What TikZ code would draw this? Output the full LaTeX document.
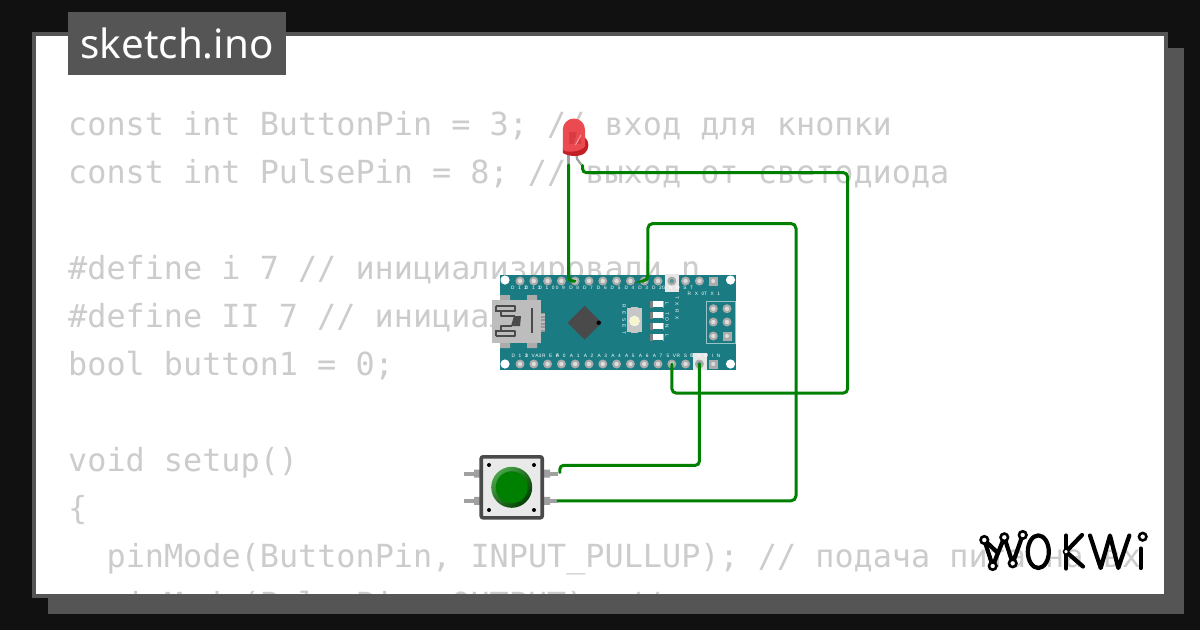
\documentclass[tikz,border=0pt]{standalone}
\usepackage{fontspec}
\setmainfont{Liberation Sans}
\newfontfamily\codefont{DejaVu Sans Mono}
\newfontfamily\titlefont{Noto Sans}
\newfontfamily\pinfont[LetterSpace=75]{Liberation Sans}
\usetikzlibrary{calc}
\definecolor{bgdark}{HTML}{111111}
\definecolor{framegray}{HTML}{555555}
\definecolor{codegray}{HTML}{CCCCCC}
\definecolor{boardteal}{HTML}{1B7B83}
\definecolor{wiregreen}{HTML}{008000}
\definecolor{pinmetal}{HTML}{ABABAB}
\definecolor{pinlight}{HTML}{DDDDDD}
\definecolor{usbgray}{HTML}{BDBDBD}
\definecolor{usbdark}{HTML}{4A4A4A}
\definecolor{legray}{HTML}{A0A0A0}
\definecolor{ledred}{HTML}{EA4A50}
\definecolor{leddark}{HTML}{C21F26}
\definecolor{ledmid}{HTML}{D83C42}
\definecolor{resetface}{HTML}{F6F6CC}
\definecolor{btnface}{HTML}{E9E9E9}
\definecolor{btnhi}{HTML}{4BA34B}
\definecolor{btnlo}{HTML}{003F00}
\tikzset{
  codeline/.style={anchor=base west,inner sep=0pt,text=codegray,font=\codefont\fontsize{31.82}{32}\selectfont},
  pinhole/.style={circle,fill=pinmetal,inner sep=0pt,minimum size=9pt},
  pinsquare/.style={rectangle,fill=pinmetal,inner sep=0pt,minimum size=9pt},
  pinlabel/.style={inner sep=0pt,text=white,font=\pinfont\fontsize{4.8}{5}\selectfont},
  wire/.style={draw=wiregreen,line width=3pt,rounded corners=5pt,line cap=round},
  logo/.style={draw=black,line width=4.2pt,line cap=round,line join=round},
  logodot/.style={draw=black,fill=white,line width=2.6pt,circle,inner sep=0pt,minimum size=7.5pt},
  lamp/.style={rectangle,fill=white,inner sep=0pt,minimum width=14pt,minimum height=6.6pt},
}
\begin{document}
\begin{tikzpicture}[x=1pt,y=-1pt]
\useasboundingbox (0,0) rectangle (1200,630);
\fill[bgdark] (0,0) rectangle (1200,630);
\fill[framegray] (48,48) rectangle (1184,614);
\fill[white] (32,32) rectangle (1168,598);
% code text
\begin{scope}
\clip (36,36) rectangle (1164,594);
\node[codeline] (code1) at (68,135) {const int ButtonPin = 3; // вход для кнопки};
\node[codeline] (code2) at (68,183) {const int PulsePin = 8; // выход от светодиода};
\node[codeline] (code4) at (68,279) {\#define i 7 // инициализировали n};
\node[codeline] (code5) at (68,327) {\#define II 7 // инициализировали};
\node[codeline] (code6) at (68,375) {bool button1 = 0;};
\node[codeline] (code8) at (68,471) {void setup()};
\node[codeline] (code9) at (68,519) {\{};
\node[codeline] (code10) at (106.4,567) {pinMode(ButtonPin, INPUT\_PULLUP); // подача пита на вх};
\node[codeline] (code11) at (106.4,615) {pinMode(PulsePin, OUTPUT); //};
\end{scope}
\draw[framegray,line width=4pt] (34,34) rectangle (1166,596);
% title
\fill[framegray] (68,12) rectangle (286,75);
\node[anchor=base,inner sep=0pt,text=white,font=\titlefont\fontsize{40.3}{40}\selectfont] (title) at (177,58) {sketch.ino};
% board
\fill[boardteal] (500,275) rectangle (736,370);
\foreach \p in {(505,280),(730.5,280),(505,364),(730.5,364)} \fill[white] \p circle (4.6);
\fill[pinlight!70!white] (665.3,274) rectangle (679,291.7);
\fill[pinlight!70!white] (692.7,352.7) rectangle (706.7,370);
% pins
\foreach \i in {0,...,13} {
  \node[pinhole] (t\i) at ({520+13.8*\i},281) {};
  \fill[pinlight] (t\i.center) circle (2.2);
  \node[pinhole] (b\i) at ({520+13.8*\i},364) {};
  \fill[pinlight] (b\i.center) circle (2.2);
}
\node[pinsquare] (t14) at (713.2,281) {};
\fill[pinlight] (t14.center) circle (2);
\node[pinsquare] (b14) at (713.2,364) {};
\fill[pinlight] (b14.center) circle (2);
\fill[boardteal!55!pinmetal] (t11.center) circle (2.2);
\fill[boardteal!55!pinmetal] (b13.center) circle (2.2);
% pin labels
\foreach \i/\t in {0/D12,1/D11,2/D10,3/09,4/D8,5/D7,6/D6,7/D5,8/D4,9/D3,10/D2,11/GND,12/RST}
  \node[pinlabel] (lt\i) at ({519+13.8*\i},288) {\t};
\foreach \i/\t in {0/D13,1/3V3,2/AREF,3/A0,4/A1,5/A2,6/A3,7/A4,8/A5,9/A6,10/A7,11/5V,12/RST,13/GND,14/VIN}
  \node[pinlabel] (lb\i) at ({519.5+13.8*\i},356) {\t};
\node[pinlabel] (lrx) at (696,293.5) {RX0};
\node[pinlabel] (ltx) at (712,293.5) {TX1};
% USB
\fill[pinmetal] (500,295) rectangle (510,300) (527,295) rectangle (537,300)
                (500,342) rectangle (510,348) (527,342) rectangle (537,348);
\fill[usbgray!80!black] (540,312.5) rectangle (545,331.5);
\foreach \y in {314,317.5,321,324.5,328} \fill[usbgray] (540,\y) rectangle (545,\y+1.6);
\fill[usbgray] (492.3,300) rectangle (540.7,342.7);
\draw[usbdark,line width=1.2pt,line join=round] (496,306) -- (515,306) -- (515,311) -- (501,311) -- (501,316) -- (515,316);
\draw[usbdark,line width=1.2pt,line join=round] (496,336) -- (515,336) -- (515,331) -- (501,331) -- (501,326) -- (512,326);
\draw[usbdark,line width=1.2pt] (496,306) -- (496,311) -- (501,311);
\draw[usbdark,line width=1.2pt] (496,336) -- (496,331) -- (501,331);
\fill[usbdark] (514,316) -- (521,316) -- (520,326) -- (511,326) -- cycle;
\draw[usbdark,line width=1.6pt] (531.7,308) -- (531.7,333);
% chip
\fill[usbdark] (584.7,305.7) -- (601.7,322.7) -- (584.7,339.7) -- (567.7,322.7) -- cycle;
\fill[black] (598.7,322.7) circle (2.2);
% reset
\fill[usbgray!85!white] (627.3,308.3) rectangle (641.7,331.7);
\fill[usbgray!85!white] (631,306.8) rectangle (638,333.2);
\fill[resetface,draw=white,line width=.4pt] (634.5,321) circle (5);
\node[pinlabel,rotate=-90] (lreset) at (624,319.5) {RESET};
% LEDs on board
\foreach \y/\n in {304/a,315/b,326/c,337/d} {
  \node[lamp] (lamp\n) at (657,\y) {};
  \fill[pinmetal!75!black] (lamp\n.north west) rectangle ($(lamp\n.south west)+(3.5,0)$);
  \fill[pinmetal] (lamp\n.north east) rectangle ($(lamp\n.south east)+(-1.5,0)$);
}
\node[pinlabel,rotate=-90] (ll1) at (667,304) {L};
\node[pinlabel,rotate=-90] (ll2) at (667,314) {T};
\node[pinlabel,rotate=-90] (ll3) at (667,323) {ON};
\node[pinlabel,rotate=-90] (ll4) at (667,336) {L};
\node[pinlabel,rotate=-90] (ll5) at (677,308) {TXRX};
% ICSP
\draw[boardteal!45!white,line width=.8pt] (706,301.3) rectangle (735,343.3);
\foreach \x/\y/\n in {713.3/308.7/a,727/308.7/b,713.3/322/c,727/322/d,713.3/336/e} {
  \node[pinhole] (icsp\n) at (\x,\y) {};
  \fill[pinlight] (icsp\n.center) circle (2.2);
}
\node[pinsquare] (icspf) at (727,336) {};
\fill[pinlight] (icspf.center) circle (2);
% LED
\draw[legray,line width=2.2pt] (568.5,152) -- (568.5,168);
\draw[legray,line width=2.2pt,line join=round] (576,152) -- (577,159) -- (582.5,166);
\fill[leddark] (562.8,148) -- (562.8,153) .. controls (570,157) and (580,157) .. (585,153) .. controls (589.5,149) and (589.5,141) .. (585,137.5) -- cycle;
\fill[ledred] (562.8,150) -- (562.8,129.6) arc[start angle=180,end angle=360,radius=11.1] -- (585,146.5) .. controls (580,152) and (568,153) .. (562.8,150) -- cycle;
\fill[ledmid] (568.5,132) -- (581,132) -- (581,144) -- (568.5,144) -- cycle;
\fill[ledred] (577,132) -- (581,132) -- (581,136.5) -- (576,144) -- (574,144) -- cycle;
\draw[ledred!50!white,line width=.9pt] (581,135) -- (575.5,145);
% button
\draw[legray,line width=4pt] (464,473.5) -- (480,473.5) (464,500.8) -- (480,500.8);
\fill[legray] (474,469.5) rectangle (481,477.5) (474,496.8) rectangle (481,504.8);
\fill[legray] (543,469.5) rectangle (550,477.5) (543,496.8) rectangle (550,504.8);
\draw[legray,line width=4pt] (544,473.5) -- (558,473.5) (544,500.8) -- (558,500.8);
\coordinate (btn1) at (559.8,472.5);
\coordinate (btn2) at (558,500.8);
\draw[usbdark,fill=btnface,line width=3.6pt,rounded corners=2pt] (481.2,456.8) rectangle (542.2,517.8);
\foreach \x/\y in {489/465,534/465,489/510,534/510} \fill[black] (\x,\y) circle (2);
\shade[top color=btnhi,bottom color=btnlo,shading angle=45] (511.7,487.3) circle (20.5);
\fill[wiregreen] (511.7,487.3) circle (16);
% wires
\coordinate (ledk) at (568.5,165);
\coordinate (leda) at (582.5,165.5);
\coordinate (w2a) at (582.5,172.7);
\coordinate (w2b) at (847.5,172.7);
\coordinate (w2c) at (847.5,393);
\coordinate (w2d) at (672,393);
\coordinate (w3a) at (647.8,223.5);
\coordinate (w3b) at (796,223.5);
\coordinate (w3c) at (796,500.8);
\coordinate (w4a) at (699.4,465.3);
\coordinate (w4b) at (559.8,465.3);
\draw[wire,rounded corners=4pt] (ledk) -- (ledk |- t4.center) -- (t4.center);
\draw[wire,rounded corners=4pt] (leda) -- (w2a) -- (w2b) -- (w2c) -- (w2d) -- (b11.center);
\draw[wire] (t9.center) -- (w3a |- t9.center) -- (w3a) -- (w3b) -- (w3c) -- (btn2);
\draw[wire,rounded corners=4pt] (b13.center) -- (w4a) -- (w4b) -- (btn1);
% logo
\draw[logo] (984.3,540) -- (992.7,566) -- (1004.3,537.3) -- (1012.7,563.3) -- (1022.7,535);
\draw[logo] (984.3,540) -- (998,553);
\foreach \x/\y/\n in {984.3/540/a,1004.3/537.3/b,1022.7/535/c,992.7/566/d,1012.7/563.3/e}
  \node[logodot] (lw\n) at (\x,\y) {};
\draw[logo] (1038.3,551.7) ellipse (10.5 and 16.3);
\draw[logo] (1066,535.5) -- (1066,568.5);
\draw[logo] (1082,535) -- (1066,551.7) -- (1083,566.5);
\node[logodot,minimum size=5pt,line width=1.5pt] (lk) at (1066,551.7) {};
\draw[logo] (1090,535.5) -- (1100.7,568) -- (1110,535.5) -- (1118.3,568) -- (1129.3,535.5);
\draw[logo] (1140.7,548.5) -- (1140.7,568);
\node[logodot] (li) at (1142.7,536.7) {};
\end{tikzpicture}
\end{document}
